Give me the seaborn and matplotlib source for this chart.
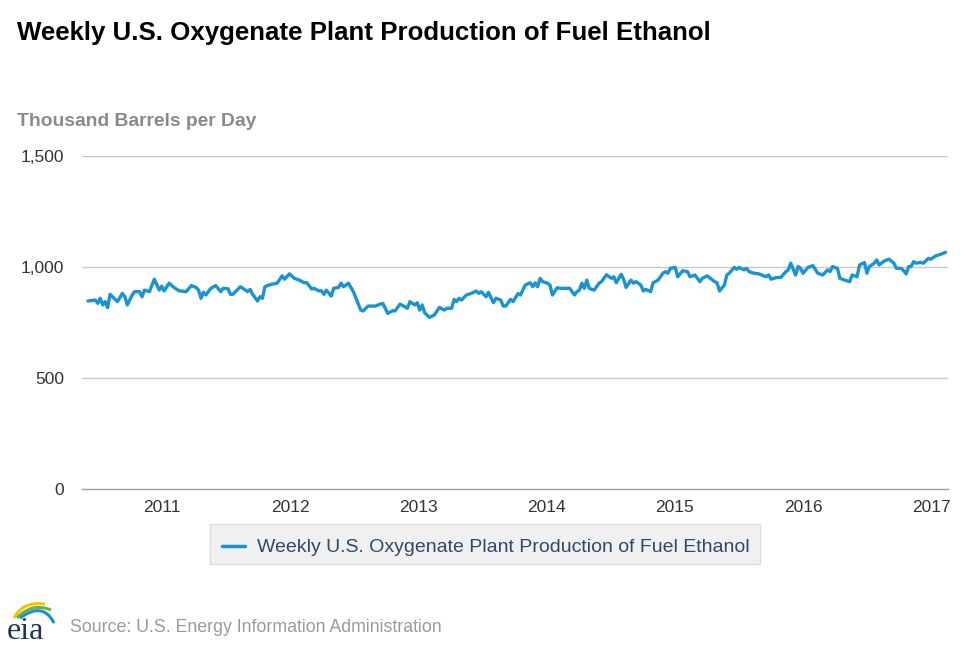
import numpy as np
import pandas as pd
import matplotlib
matplotlib.use("Agg")
import matplotlib.pyplot as plt
from matplotlib.path import Path
from matplotlib.patches import PathPatch, Rectangle
from matplotlib.lines import Line2D
import seaborn as sns

# ---------------- data ----------------
start_date = "2010-06-04"
weeks = [0, 3, 4, 5, 6, 7, 8, 9, 10, 12, 14, 15, 16, 18, 19, 21, 22, 23, 25, 27,
         29, 30, 31, 33, 35, 37, 40, 42, 44, 45, 46, 47, 48, 50, 52, 54, 55, 57, 58, 59,
         62, 63, 65, 66, 67, 69, 70, 71, 72, 73, 75, 77, 79, 80, 82, 84, 86, 88, 89, 91,
         92, 94, 95, 96, 97, 99, 100, 102, 103, 104, 106, 108, 111, 112, 114,
         115, 117, 118, 120, 122, 124, 125, 127, 130, 131, 133, 134, 135, 136, 137, 139,
         141, 143, 145, 146, 148, 149, 150, 151, 152, 154, 156, 158, 159, 160, 162, 163,
         165, 166, 168, 169, 170, 172, 173, 175, 176, 177, 178, 180, 181, 182, 183, 184,
         185, 187, 188, 189, 191, 192, 194, 196, 198, 199, 200, 201, 202, 203, 204, 206,
         208, 209, 211, 213, 214, 215, 217, 218, 219, 221, 222, 223, 225, 226, 227, 229,
         230, 232, 234, 235,
         236, 237, 239, 240, 242, 244, 245, 247, 249, 250, 252, 255, 256, 257, 259, 260,
         261, 263, 264, 265, 267, 268, 269, 271, 273, 276, 277, 278, 280, 282, 284, 285,
         286, 288, 289, 290, 291, 293, 295, 297, 299, 301, 302, 303, 305, 306, 308, 310,
         311, 313, 314, 316, 317, 318, 320, 321, 322, 324, 326, 328, 329, 331, 332, 333,
         334, 335, 336, 337, 339, 340, 342, 343, 345, 347, 349]
values = [847, 851, 836, 859, 829, 844, 817, 877, 866, 844, 881, 866, 829, 874, 889, 889, 866, 896, 889, 945,
          896, 914, 892, 927, 908, 893, 889, 916, 908, 896, 859, 886, 874, 904, 916, 889, 904, 902, 877, 877,
          911, 904, 889, 899, 877, 847, 866, 859, 911, 916, 923, 927, 960, 945, 969, 949, 941, 929, 930, 901,
          904, 892, 893, 877, 896, 869, 904, 908, 927, 911, 927, 889, 806, 802, 824,
          824, 824, 829, 836, 791, 803, 802, 833, 814, 844, 829, 839, 806, 829, 794, 773,
          784, 818, 806, 814, 814, 854, 844, 859, 851, 874, 881, 892, 881, 889, 866, 886,
          839, 859, 851, 824, 824, 854, 844, 880, 874, 896, 919, 929, 911, 929, 911, 949,
          934, 927, 919, 874, 907, 904, 904, 904, 874, 889, 896, 927, 904, 941, 904, 896,
          927, 934, 965, 949, 956, 929, 967, 945, 908, 941, 927, 934, 919, 892, 899, 889,
          929, 941, 972, 979,
          972, 994, 998, 956, 983, 979, 956, 964, 934, 949, 960, 934, 929, 892, 919, 964,
          972, 998, 990, 998, 987, 994, 979, 972, 969, 956, 964, 945, 952, 953, 979, 987,
          1017, 964, 1002, 994, 972, 998, 1006, 972, 964, 987, 979, 1002, 994, 949, 941, 934,
          964, 956, 1009, 1020, 972, 1002, 1017, 1032, 1009, 1027, 1035, 1017, 994, 994, 983, 969,
          1002, 1002, 1024, 1017, 1021, 1017, 1039, 1035, 1050, 1057, 1066]
series_name = "Weekly U.S. Oxygenate Plant Production of Fuel Ethanol"
title_text = "Weekly U.S. Oxygenate Plant Production of Fuel Ethanol"
y_title = "Thousand Barrels per Day"
y_ticks = [0, 500, 1000, 1500]
x_tick_years = [2011, 2012, 2013, 2014, 2015, 2016, 2017]
source_text = "Source: U.S. Energy Information Administration"

df = pd.DataFrame({
    "date": pd.Timestamp(start_date) + pd.to_timedelta(np.array(weeks) * 7, unit="D"),
    "value": values,
})

# ---------------- style ----------------
sns.set_style("white")
plt.rcParams["font.family"] = ["Liberation Sans", "DejaVu Sans"]

W, H = 970, 647
fig = plt.figure(figsize=(W / 100, H / 100), dpi=100)
ax_l, ax_r, ax_t, ax_b = 82, 948, 156, 489
ax = fig.add_axes([ax_l / W, 1 - ax_b / H, (ax_r - ax_l) / W, (ax_b - ax_t) / H])

line_color = "#1a94cf"
sns.lineplot(data=df, x="date", y="value", ax=ax, color=line_color, linewidth=2.4, legend=False)

ax.set_ylim(0, 1500)
ax.set_xlim(pd.Timestamp("2010-05-18"), pd.Timestamp("2017-02-17"))
ax.set_yticks(y_ticks)
ax.set_yticklabels([f"{v:,}" for v in y_ticks])
ax.set_xticks([pd.Timestamp(f"{y}-01-01") for y in x_tick_years])
ax.set_xticklabels([str(y) for y in x_tick_years])
ax.set_xlabel("")
ax.set_ylabel("")

for v in y_ticks[1:]:
    ax.axhline(v, color="#c8c8c8", linewidth=1.0, zorder=0)

for s in ["top", "right", "left"]:
    ax.spines[s].set_visible(False)
ax.spines["bottom"].set_color("#9a9a9a")
ax.spines["bottom"].set_linewidth(1.0)

ax.tick_params(axis="y", length=0, pad=13, labelsize=12.5, labelcolor="#333333")
ax.tick_params(axis="x", length=5, width=1, color="#9a9a9a", direction="out",
               pad=3, labelsize=12.5, labelcolor="#333333")

# titles
fig.text(17 / W, 1 - 33 / H, title_text, fontsize=18.6, fontweight="bold",
         color="#000000", ha="left", va="center")
fig.text(17 / W, 1 - 121 / H, y_title, fontsize=13.9, fontweight="bold",
         color="#8a8a8a", ha="left", va="center")

# legend box
lx0, lx1, ly0, ly1 = 210, 760, 524, 564
fig.patches.append(Rectangle((lx0 / W, 1 - ly1 / H), (lx1 - lx0) / W, (ly1 - ly0) / H,
                             transform=fig.transFigure, facecolor="#f0f0f0",
                             edgecolor="#dcdcdc", linewidth=1.0))
fig.lines.append(Line2D([222 / W, 245 / W], [1 - 546 / H, 1 - 546 / H],
                        transform=fig.transFigure, color=line_color, linewidth=2.5))
fig.text(257 / W, 1 - 547 / H, series_name, fontsize=14, color="#2e4a6b",
         ha="left", va="center")

# source
fig.text(70 / W, 1 - 627 / H, source_text, fontsize=12.8, color="#9a9a9a",
         ha="left", va="center")

# eia logo
lax = fig.add_axes([5 / W, 2 / H, 55 / W, 45 / H])
lax.set_xlim(0, 55)
lax.set_ylim(0, 45)
lax.axis("off")
lax.text(2, 6, "eia", fontsize=23, family=["Liberation Serif", "DejaVu Serif"],
         color="#1f3550", ha="left", va="baseline")
for (p0, c, p1, col) in [((9, 27), (18, 44), (40, 41), "#f2c500"),
                         ((12, 27), (27, 43), (46, 35), "#6bb33b"),
                         ((15, 27), (38, 44), (49, 22), "#1a8fc9")]:
    path = Path([p0, c, p1], [Path.MOVETO, Path.CURVE3, Path.CURVE3])
    lax.add_patch(PathPatch(path, facecolor="none", edgecolor=col, linewidth=2.2))

fig.savefig("out.png", dpi=100)
